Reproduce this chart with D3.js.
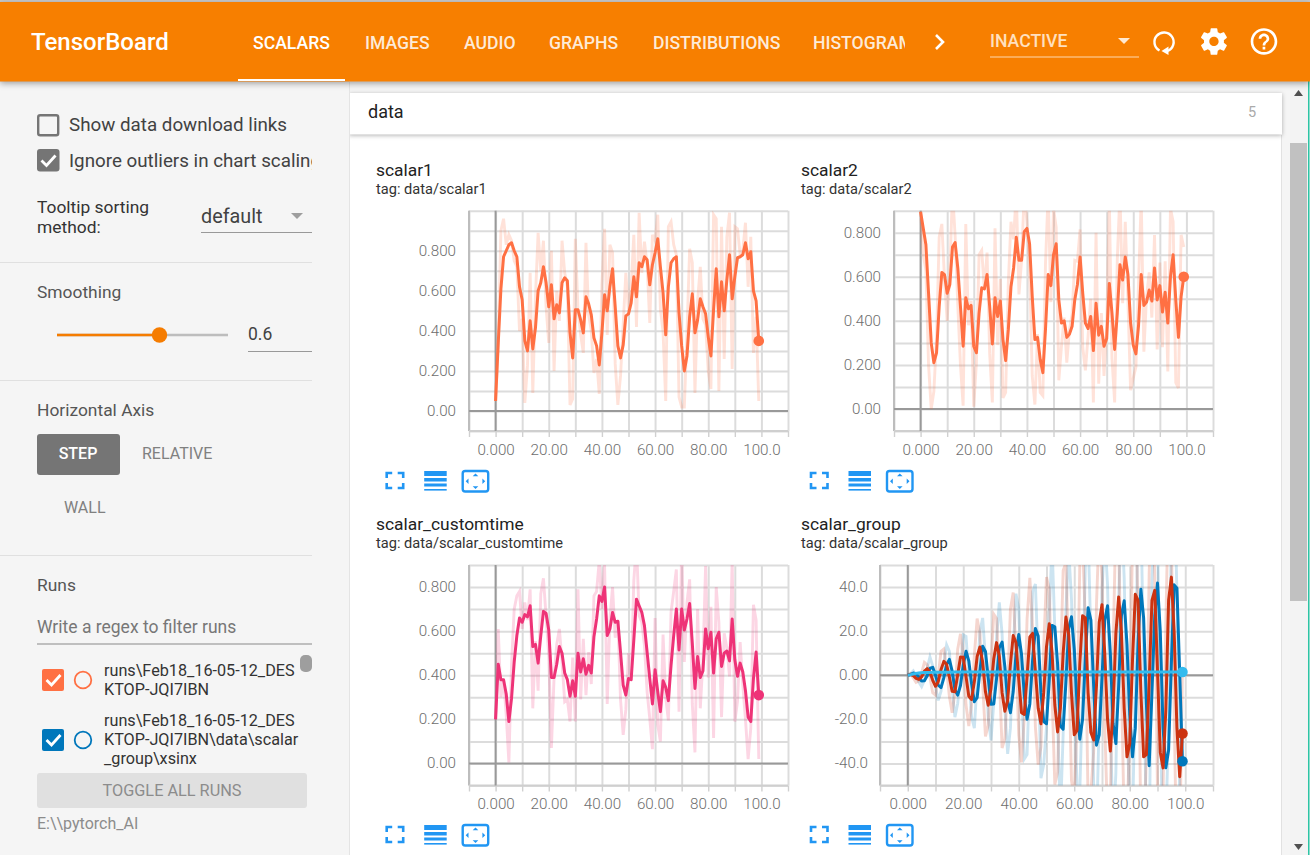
<!DOCTYPE html>
<html>
<head>
<meta charset="utf-8">
<title>TensorBoard</title>
<script src="https://cdn.jsdelivr.net/npm/d3@7"></script>
<style>
    html, body { margin: 0; padding: 0; background: #fff; overflow: hidden; }
    svg { display: block; font-family: Roboto, sans-serif; }
    .axis text { font-family: Roboto, sans-serif; font-weight: 300; font-size: 15.2px; fill: #6e6e6e; }
    .axis path { display: none; }
</style>
</head>
<body>
<div id="chart"></div>
<script>
// Values, one per step (0..99)
var scalar1Smooth = [.05,.34,.61,.77,.80,.83,.84,.80,.77,.62,.555,.35,.30,.45,.31,.415,.60,.64,.72,.64,.52,.63,.46,.53,.49,.64,.665,.65,.39,.265,.505,.505,.455,.39,.57,.535,.48,.365,.325,.23,.39,.58,.50,.62,.71,.52,.325,.265,.33,.475,.485,.54,.67,.57,.74,.72,.77,.755,.63,.73,.79,.86,.72,.59,.38,.62,.74,.76,.77,.49,.325,.20,.275,.47,.585,.39,.455,.56,.52,.485,.37,.275,.505,.71,.47,.645,.50,.655,.78,.56,.67,.765,.77,.78,.84,.76,.795,.60,.55,.35];
var scalar1Raw = [.05,.35,.90,.96,.83,.88,.85,.75,.72,.40,.46,.04,.225,.69,.09,.57,.89,.70,.85,.52,.34,.80,.20,.60,.45,.85,.69,.62,.03,.06,.86,.505,.38,.29,.84,.48,.40,.19,.26,.085,.63,.91,.38,.83,.79,.235,.03,.175,.43,.69,.50,.62,.88,.42,.99,.69,.845,.73,.44,.88,.85,.98,.51,.395,.05,.92,.945,.83,.78,.07,.02,.02,.39,.81,.74,.09,.55,.72,.46,.43,.20,.11,.98,.96,.10,.92,.26,.87,.99,.21,.92,.91,.78,.80,.94,.62,.87,.29,.47,.05];

var scalar2Smooth = [.895,.82,.745,.525,.30,.21,.255,.465,.62,.61,.525,.565,.735,.755,.64,.465,.285,.505,.455,.47,.285,.255,.435,.55,.545,.61,.465,.295,.505,.42,.49,.315,.22,.36,.555,.64,.78,.675,.675,.805,.82,.75,.51,.315,.325,.225,.165,.365,.61,.56,.70,.75,.495,.39,.40,.325,.34,.375,.495,.565,.69,.525,.39,.365,.42,.265,.48,.335,.375,.285,.32,.57,.435,.27,.435,.655,.585,.69,.61,.39,.29,.25,.38,.61,.47,.485,.54,.49,.64,.495,.56,.44,.53,.39,.60,.70,.495,.325,.51,.60];
var scalar2Raw = [.895,.70,.63,.20,0,.08,.32,.78,.84,.59,.40,.625,.99,.785,.47,.20,.015,.84,.38,.49,.01,.21,.70,.72,.54,.71,.25,.03,.82,.29,.59,.05,.075,.57,.85,.77,.99,.52,.675,.99,.85,.645,.15,.02,.34,.075,.06,.665,.98,.485,.91,.825,.13,.285,.415,.21,.36,.43,.675,.67,.815,.28,.175,.33,.50,.03,.80,.115,.435,.15,.37,.95,.23,.03,.68,.985,.48,.85,.49,.085,.14,.19,.575,.955,.26,.51,.62,.415,.79,.27,.665,.28,.67,.17,.91,.85,.12,.095,.79,.735];

var customtimeSmooth = [.20,.45,.38,.38,.315,.19,.295,.46,.58,.66,.64,.675,.665,.715,.53,.54,.455,.58,.69,.68,.605,.39,.39,.45,.53,.50,.41,.38,.305,.375,.305,.50,.415,.475,.405,.445,.41,.575,.655,.76,.735,.80,.58,.61,.685,.64,.645,.505,.355,.31,.385,.38,.56,.745,.715,.685,.625,.505,.385,.27,.425,.325,.235,.375,.345,.285,.445,.58,.70,.515,.70,.605,.655,.725,.545,.34,.485,.39,.42,.61,.52,.595,.41,.565,.595,.44,.50,.51,.465,.655,.47,.395,.455,.415,.33,.21,.19,.385,.505,.31];
var customtimeRaw = [.20,.61,.30,.38,.22,.005,.45,.70,.76,.78,.61,.73,.65,.79,.25,.555,.33,.77,.84,.665,.49,.07,.39,.54,.61,.46,.28,.29,.19,.48,.19,.79,.29,.565,.31,.505,.36,.76,.78,.92,.70,.90,.27,.655,.80,.57,.65,.29,.13,.245,.50,.375,.83,1,.67,.64,.535,.325,.205,.065,.66,.175,.10,.585,.30,.195,.685,.78,.88,.235,.98,.46,.73,.835,.27,.05,.70,.25,.465,.895,.39,.71,.115,.80,.64,.21,.59,.525,.395,.92,.19,.28,.55,.355,.20,.02,.16,.72,.65,.02];

var xsinxSmooth = [0,.3,1,.6,-.9,-2.6,-2.5,-.2,3.2,3.6,.1,-4.5,-5.6,-1.2,4.8,7.2,1.9,-6.5,-9,-4.7,4.5,10.9,6.5,-3.8,-12,-10.2,1.8,13.2,10.8,-1.2,-13.2,-13,-1.5,12.5,15,3.8,-11.5,-17,-7.5,9.5,18.5,9.5,-9,-20,-13,7,21.2,17.8,-8,-21,-22,-2,22.6,22,5,-23,-24.5,-3,21,26.5,12,-13,-29,-20,8,30.6,25,-5,-31.7,-27,-1,25,31.5,10,-22,-31,-5,27,33.8,14,-18,-37,-24,15,39,26,-13,-41,-8,27,41.8,20,-24,-42,-34,5.5,41,39.5,1,-39];
var xsinxRaw = [0,.75,2,0,-3.1,-5.2,-2.4,3.3,8.3,4.2,-5.2,-11.4,-7.2,5.4,13.8,10.8,-6,-19,-12.8,1.8,18.3,17.6,0,-19,-24,-3,19.8,26,7.5,-19,-29.5,-12.5,17,33,18.7,-15,-35.7,-24,11,37,30,-6.5,-38,-36,1,38,41.4,6,-46.7,-40.5,-23.5,28,59.5,21,-20.5,-65,-26.7,29,57,34.7,-9.7,-50.5,-53,-6.5,50,64.5,16.6,-50,-71.7,-20,38,64,41,-22,-70,-44.5,34,75,44,-16,-66,-65.5,-4.5,73.5,75,6.5,-71.5,-83,41.5,79.5,64,-12.7,-90,-69,-22,65,94,37,-56.7,-99];

var xcosxSmooth = [0,.5,-.2,-1.4,-1.9,-.7,1.9,3,1.4,-2.3,-5,-2.9,2.6,6.3,5,-.8,-7.3,-7.5,.2,8.3,8.2,-.5,-9.5,-11,-3,8.5,12.8,6,-7.5,-13.6,-6,7.5,14.8,8.7,-8,-16.3,-11.6,5,18,14.8,-2,-17,-17.8,-.5,17.4,19,2,-15,-22,-8,13,23.4,10.5,-13.5,-25.7,-15,10,26.4,18.5,-8,-27,-25,5,27,26,-8,-26,-29.4,-5,24,32,10,-20,-34.4,-16,19,35.5,20,-15,-37,-31,7,36.7,34,-7,-37,-36,-3,34,38.5,2,-35,-42,-16,34,44.5,20,-24,-46,-26.4];
var xcosxRaw = [0,.5,-1.2,-3.2,-2.6,1.1,5.8,4.7,-1,-7.9,-9,.3,10.9,11.9,3,-9.5,-17,-7.8,11.8,18.8,8,-13.5,-23,-13.2,9,25.7,19,-4,-27.7,-22.7,5.4,27.7,25.8,-.5,-33,-28.7,-4.5,30,37.5,10,-27,-39.5,-19,25.5,44.2,21.4,-23.5,-40.5,-32.5,13,44.5,39,-9,-49.5,-44,1,47.5,51,6.6,-47.7,-55.5,-22,50,60,24.5,-59,-53,-34.5,31.6,67.5,44,-23,-65,-56,11.6,71.5,60,-3,-67.5,-70,-22,64,81,30,-68.5,-82,-34.5,46.5,89.5,45,-53,-90,-52.5,23,85,60,-17,-90,-79,3];

var arctanxSmooth = [0,.3,.6,.85,1,1.1,1.2,1.25,1.3,1.32,1.35,1.37,1.38,1.39,1.4,1.4,1.41,1.42,1.42,1.43,1.43,1.43,1.44,1.44,1.44,1.45,1.45,1.45,1.45,1.46,1.46,1.46,1.46,1.46,1.46,1.47,1.47,1.47,1.47,1.47,1.47,1.47,1.47,1.48,1.48,1.48,1.48,1.48,1.48,1.48,1.48,1.48,1.48,1.48,1.49,1.49,1.49,1.49,1.49,1.49,1.49,1.49,1.49,1.49,1.49,1.49,1.49,1.5,1.5,1.5,1.5,1.5,1.5,1.5,1.5,1.5,1.5,1.5,1.5,1.5,1.5,1.5,1.5,1.5,1.5,1.5,1.5,1.5,1.5,1.5,1.5,1.5,1.5,1.5,1.5,1.5,1.5,1.5,1.5,1.5];

var xTickLabels = ["0.000", "20.00", "40.00", "60.00", "80.00", "100.0"];
var xLabelSteps = [0, 20, 40, 60, 80, 100];
var xGridSteps = [-10, 0, 10, 20, 30, 40, 50, 60, 70, 80, 90, 100, 110];

var tabLabels = ["SCALARS", "IMAGES", "AUDIO", "GRAPHS", "DISTRIBUTIONS", "HISTOGRAMS"];
var tabX = [253, 365, 464, 549, 653, 813];

var chartTitles = ["scalar1", "scalar2", "scalar_customtime", "scalar_group"];
var chartTags = ["tag: data/scalar1", "tag: data/scalar2", "tag: data/scalar_customtime", "tag: data/scalar_group"];

var ORANGE = "#ff7043", BLUE = "#0077bb", MAGENTA = "#ee3377", RED = "#cc3311", SKY = "#33bbee";

var panels = [
    {left: 469, right: 788, top: 210.7, bottom: 431, labelRight: 456, yDomain: [-0.1, 1.0], yStep: 0.1, yLabels: [0, .2, .4, .6, .8], fmt: yFmt01,
     series: [{raw: scalar1Raw, smooth: scalar1Smooth, color: ORANGE}]},
    {left: 894, right: 1213, top: 210.7, bottom: 431, labelRight: 881, yDomain: [-0.1, 0.9], yStep: 0.1, yLabels: [0, .2, .4, .6, .8], fmt: yFmt01,
     series: [{raw: scalar2Raw, smooth: scalar2Smooth, color: ORANGE}]},
    {left: 469, right: 788, top: 565, bottom: 785.5, labelRight: 456, yDomain: [-0.1, 0.9], yStep: 0.1, yLabels: [0, .2, .4, .6, .8], fmt: yFmt01,
     series: [{raw: customtimeRaw, smooth: customtimeSmooth, color: MAGENTA}]},
    {left: 880, right: 1213, top: 565, bottom: 785.5, labelRight: 868, yDomain: [-50, 50], yStep: 10, yLabels: [-40, -20, 0, 20, 40], fmt: yFmtGroup,
     series: [{raw: xsinxRaw, smooth: xsinxSmooth, color: BLUE},
              {raw: xcosxRaw, smooth: xcosxSmooth, color: RED},
              {raw: arctanxSmooth, smooth: arctanxSmooth, color: SKY}]}
];

function yFmt01(v) {
    return v === 0 ? "0.00" : v.toFixed(3);
}

function yFmtGroup(v) {
    return v === 0 ? "0.00" : v.toFixed(1);
}

var svg = d3.select("#chart").append("svg").attr("width", 1310).attr("height", 855);
var defs = svg.append("defs");

function addClip(id, x, y, w, h) {
    defs.append("clipPath").attr("id", id)
        .append("rect").attr("x", x).attr("y", y).attr("width", w).attr("height", h);
}

function label(parent, x, y, text, size, color, weight, anchor) {
    return parent.append("text")
        .attr("x", x).attr("y", y)
        .attr("font-size", size)
        .attr("fill", color || "#333")
        .attr("font-weight", weight || 400)
        .attr("text-anchor", anchor || "start")
        .text(text);
}

function box(parent, x, y, w, h, fill, r) {
    return parent.append("rect")
        .attr("x", x).attr("y", y).attr("width", w).attr("height", h)
        .attr("rx", r || 0).attr("fill", fill);
}

function hline(parent, x1, x2, y, color, width) {
    parent.append("line")
        .attr("x1", x1).attr("x2", x2).attr("y1", y).attr("y2", y)
        .attr("stroke", color).attr("stroke-width", width || 1);
}

function checkMark(parent, x, y) {
    parent.append("path")
        .attr("d", "M" + (x + 4.5) + " " + (y + 11.5) + "l5 5l9 -10")
        .attr("fill", "none").attr("stroke", "#fff").attr("stroke-width", 2.8);
}

function drawSidebar() {
    var g = svg.append("g");
    box(g, 0, 0, 349, 855, "#f5f5f5");
    box(g, 349, 82, 1, 773, "#e4e4e4");
    addClip("sideClip", 0, 82, 312, 773);

    g.append("rect").attr("x", 38.2).attr("y", 115.2).attr("width", 20).attr("height", 20).attr("rx", 2)
        .attr("fill", "none").attr("stroke", "#757575").attr("stroke-width", 2.4);
    label(g, 69, 131, "Show data download links", 18.8, "#424242");

    box(g, 37, 149, 22.5, 22.5, "#757575", 3);
    checkMark(g, 37, 149);
    label(g, 69, 167, "Ignore outliers in chart scaling", 18.8, "#424242").attr("clip-path", "url(#sideClip)");

    label(g, 37, 213, "Tooltip sorting", 17.4, "#333");
    label(g, 37, 233, "method:", 17.4, "#333");
    label(g, 201, 223, "default", 19.8, "#424242");
    g.append("path").attr("d", "M291 213h12l-6 6z").attr("fill", "#9e9e9e");
    hline(g, 201, 312, 232.5, "#999", 1);

    hline(g, 0, 312, 262.5, "#e0e0e0", 1);
    label(g, 37, 298, "Smoothing", 17.4, "#555");
    hline(g, 57, 228, 335, "#bdbdbd", 2.6);
    hline(g, 57, 159, 335, "#f57c00", 2.6);
    g.append("circle").attr("cx", 159.5).attr("cy", 335).attr("r", 7.7).attr("fill", "#f57c00");
    label(g, 248, 340, "0.6", 17.5, "#424242");
    hline(g, 248, 312, 351.5, "#999", 1);

    hline(g, 0, 312, 380.5, "#e0e0e0", 1);
    label(g, 37, 416, "Horizontal Axis", 17.4, "#555");
    box(g, 37, 434, 83, 41, "#757575", 3);
    label(g, 78, 459, "STEP", 16, "#fff", 500, "middle");
    label(g, 142, 459, "RELATIVE", 16, "#808080", 400);
    label(g, 64, 513, "WALL", 16, "#808080", 400);

    hline(g, 0, 312, 555.5, "#e0e0e0", 1);
    label(g, 37, 591, "Runs", 17.4, "#555");
    label(g, 37, 633, "Write a regex to filter runs", 17.5, "#777");
    hline(g, 37, 312, 644, "#8a8a8a", 1.2);

    box(g, 42, 669, 22, 22, ORANGE, 2);
    checkMark(g, 42, 668.5);
    g.append("circle").attr("cx", 83).attr("cy", 680).attr("r", 8.3)
        .attr("fill", "none").attr("stroke", ORANGE).attr("stroke-width", 1.8);
    label(g, 104, 676, "runs\\Feb18_16-05-12_DES", 16.2, "#333");
    label(g, 104, 695, "KTOP-JQI7IBN", 16.2, "#333");
    box(g, 300, 655, 12, 17, "#9e9e9e", 5);

    box(g, 42, 729, 22, 22, BLUE, 2);
    checkMark(g, 42, 728.5);
    g.append("circle").attr("cx", 83).attr("cy", 740).attr("r", 8.3)
        .attr("fill", "none").attr("stroke", BLUE).attr("stroke-width", 1.8);
    label(g, 104, 726, "runs\\Feb18_16-05-12_DES", 16.2, "#333");
    label(g, 104, 745, "KTOP-JQI7IBN\\data\\scalar", 16.2, "#333");
    label(g, 104, 764, "_group\\xsinx", 16.2, "#333");

    box(g, 37, 773, 270, 35, "#e0e0e0", 3);
    label(g, 172, 796, "TOGGLE ALL RUNS", 16.3, "#8c8c8c", 400, "middle");
    label(g, 37, 829, "E:\\\\pytorch_AI", 16, "#8c8c8c");
}

function drawHeader() {
    var g = svg.append("g");
    box(g, 0, 0, 1310, 2, "#c9c9c9");
    box(g, 0, 2, 1310, 79.5, "#f77f00")
        .style("filter", "drop-shadow(0 2px 3px rgba(0,0,0,0.35))");
    label(g, 31, 50, "TensorBoard", 24, "#fff", 500);

    addClip("tabClip", 238, 2, 667, 78);
    var tabs = g.append("g").attr("clip-path", "url(#tabClip)");
    tabLabels.forEach(function (name, i) {
        label(tabs, tabX[i], 49, name, 17.6, i === 0 ? "#fff" : "rgba(255,255,255,0.85)", 500);
    });
    box(g, 238, 79, 107, 2, "#fff");

    g.append("path").attr("d", "M936 35l7 7l-7 7")
        .attr("fill", "none").attr("stroke", "#fff").attr("stroke-width", 2.6);

    label(g, 990, 47, "INACTIVE", 17.6, "#ffe0bf", 500);
    g.append("path").attr("d", "M1118 38h12l-6 6z").attr("fill", "#ffe9d2");
    hline(g, 990, 1139, 57, "#ffd9b0", 1.2);

    // refresh, settings, help
    g.append("path").attr("d", "M1159.5 50.5A9.6 9.6 0 1 1 1167.5 51")
        .attr("fill", "none").attr("stroke", "#fff").attr("stroke-width", 2.4);
    g.append("path").attr("d", "M1168.5 46.5v8.5l-7 -4z").attr("fill", "#fff");
    g.append("path").attr("transform", "translate(1198,25.5) scale(1.33)").attr("fill", "#fff")
        .attr("d", "M19.43 12.98c.04-.32.07-.64.07-.98s-.03-.66-.07-.98l2.11-1.65c.19-.15.24-.42.12-.64l-2-3.46c-.12-.22-.39-.3-.61-.22l-2.49 1c-.52-.4-1.08-.73-1.69-.98l-.38-2.65C14.46 2.18 14.25 2 14 2h-4c-.25 0-.46.18-.49.42l-.38 2.65c-.61.25-1.17.59-1.69.98l-2.49-1c-.23-.09-.49 0-.61.22l-2 3.46c-.13.22-.07.49.12.64l2.11 1.65c-.04.32-.07.65-.07.98s.03.66.07.98l-2.11 1.65c-.19.15-.24.42-.12.64l2 3.46c.12.22.39.3.61.22l2.49-1c.52.4 1.08.73 1.69.98l.38 2.65c.03.24.24.42.49.42h4c.25 0 .46-.18.49-.42l.38-2.65c.61-.25 1.17-.59 1.69-.98l2.49 1c.23.09.49 0 .61-.22l2-3.46c.12-.22.07-.49-.12-.64l-2.11-1.65zM12 15.5c-1.93 0-3.5-1.57-3.5-3.5s1.57-3.5 3.5-3.5 3.5 1.57 3.5 3.5-1.57 3.5-3.5 3.5z");
    g.append("path").attr("transform", "translate(1248,25.5) scale(1.33)").attr("fill", "#fff")
        .attr("d", "M11 18h2v-2h-2v2zm1-16C6.48 2 2 6.48 2 12s4.48 10 10 10 10-4.48 10-10S17.52 2 12 2zm0 18c-4.41 0-8-3.59-8-8s3.59-8 8-8 8 3.59 8 8-3.59 8-8 8zm0-14c-2.21 0-4 1.79-4 4h2c0-1.1.9-2 2-2s2 .9 2 2c0 2-3 1.75-3 5h2c0-2.25 3-2.5 3-5 0-2.21-1.79-4-4-4z");
}

function drawContentFrame() {
    var g = svg.append("g");
    box(g, 350, 82, 960, 773, "#f5f5f5");
    box(g, 350, 135, 931, 720, "#fff");
    box(g, 1281, 135, 1, 720, "#e2e2e2");

    // card header with its shadow
    box(g, 349, 93, 933, 41.5, "#fff")
        .style("filter", "drop-shadow(0 1px 2px rgba(0,0,0,0.3))");
    label(g, 368, 118, "data", 18, "#222");
    label(g, 1248, 117, "5", 14.5, "#aaa");

    // scrollbar
    box(g, 1290, 82, 18, 773, "#f3f3f3");
    box(g, 1290, 143, 17, 458, "#c1c1c1");
    g.append("path").attr("d", "M1294 96l4.5 -6l4.5 6z").attr("fill", "#505050");
    g.append("path").attr("d", "M1294 844l4.5 6l4.5 -6z").attr("fill", "#505050");
    box(g, 1308, 0, 1.5, 855, "#2cc5a5");
}

function drawIcons(g, x, y) {
    var blue = "#2196f3";
    // fullscreen corners
    g.append("path")
        .attr("d", "M" + x + " " + (y + 6) + "v-5h5.5M" + (x + 11) + " " + (y + 1) + "h5.5v5M" + (x + 16.5) + " " + (y + 11) + "v5h-5.5M" + (x + 5.5) + " " + (y + 16) + "h-5.5v-5")
        .attr("fill", "none").attr("stroke", blue).attr("stroke-width", 2.6);
    // line list
    box(g, x + 37.5, y - 1, 22.5, 5, blue);
    box(g, x + 37.5, y + 6, 22.5, 3.5, blue);
    box(g, x + 37.5, y + 11.5, 22.5, 3, blue);
    box(g, x + 37.5, y + 17, 22.5, 1.6, blue);
    // fit to data box
    g.append("rect").attr("x", x + 76).attr("y", y - 1).attr("width", 25.5).attr("height", 20.5).attr("rx", 2.5)
        .attr("fill", "none").attr("stroke", blue).attr("stroke-width", 2.4);
    g.append("path")
        .attr("d", "M" + (x + 88.8) + " " + (y + 1.5) + "l2.8 2.8h-5.6zM" + (x + 88.8) + " " + (y + 17) + "l2.8 -2.8h-5.6zM" + (x + 79) + " " + (y + 9.3) + "l2.8 -2.8v5.6zM" + (x + 98.5) + " " + (y + 9.3) + "l-2.8 -2.8v5.6z")
        .attr("fill", blue);
}

function drawPanel(p, i) {
    var g = svg.append("g");
    var x = d3.scaleLinear().domain([-10, 110]).range([p.left, p.right]);
    var y = d3.scaleLinear().domain(p.yDomain).range([p.bottom, p.top]);

    var col = i % 2 === 0 ? 376 : 801;
    var rowY = i < 2 ? 176 : 530;
    label(g, col, rowY, chartTitles[i], 17.4, "#222");
    label(g, col, rowY + 18, chartTags[i], 14.6, "#333");

    // y grid lines, one per y step
    var yGrid = d3.range(Math.round((p.yDomain[1] - p.yDomain[0]) / p.yStep) + 1).map(function (k) {
        return p.yDomain[0] + k * p.yStep;
    });
    g.append("g").attr("class", "axis")
        .attr("transform", "translate(" + p.left + ",0)")
        .call(d3.axisLeft(y).tickValues(yGrid).tickSize(p.left - p.right).tickFormat(""))
        .call(function (a) { a.selectAll("line").attr("stroke", "#dcdcdc").attr("stroke-width", 2); });

    g.append("g").attr("class", "axis")
        .attr("transform", "translate(0," + p.bottom + ")")
        .call(d3.axisBottom(x).tickValues(xGridSteps).tickSize(p.top - p.bottom).tickFormat(""))
        .call(function (a) { a.selectAll("line").attr("stroke", "#dcdcdc").attr("stroke-width", 2); });

    // short ticks under the plot
    g.append("g").attr("class", "axis")
        .attr("transform", "translate(0," + p.bottom + ")")
        .call(d3.axisBottom(x).tickValues(xGridSteps).tickSize(6).tickFormat(""))
        .call(function (a) { a.selectAll("line").attr("stroke", "#d0d0d0").attr("stroke-width", 1.4); });

    // plot border, left and bottom are darker
    g.append("line").attr("x1", p.left).attr("x2", p.left).attr("y1", p.top).attr("y2", p.bottom)
        .attr("stroke", "#bdbdbd").attr("stroke-width", 2);
    hline(g, p.left, p.right, p.bottom, "#cfcfcf", 2);

    // zero lines
    g.append("line").attr("x1", x(0)).attr("x2", x(0)).attr("y1", p.top).attr("y2", p.bottom)
        .attr("stroke", "#999").attr("stroke-width", 2);
    hline(g, p.left, p.right, y(0), "#999", 2);

    // tick labels
    g.append("g").attr("class", "axis")
        .attr("transform", "translate(0," + (p.bottom + 13) + ")")
        .call(d3.axisBottom(x).tickValues(xLabelSteps).tickSize(0).tickPadding(0)
            .tickFormat(function (d, k) { return xTickLabels[k]; }))
        .call(function (a) { a.selectAll("line").remove(); });

    g.append("g").attr("class", "axis")
        .attr("transform", "translate(" + p.labelRight + ",-0.5)")
        .call(d3.axisLeft(y).tickValues(p.yLabels).tickSize(0).tickPadding(0).tickFormat(p.fmt))
        .call(function (a) { a.selectAll("line").remove(); });

    // lines, clipped to the plot
    var clipId = "plot" + i;
    addClip(clipId, p.left, p.top, p.right - p.left, p.bottom - p.top);
    var plot = g.append("g").attr("clip-path", "url(#" + clipId + ")");
    var line = d3.line()
        .x(function (d, k) { return x(k); })
        .y(function (d) { return y(d); });

    p.series.forEach(function (s) {
        plot.append("path").attr("d", line(s.raw))
            .attr("fill", "none").attr("stroke", s.color).attr("stroke-width", 2.9).attr("stroke-opacity", 0.2);
    });
    p.series.forEach(function (s) {
        plot.append("path").attr("d", line(s.smooth))
            .attr("fill", "none").attr("stroke", s.color).attr("stroke-width", 3)
            .attr("stroke-linejoin", "round");
    });
    p.series.forEach(function (s) {
        g.append("circle")
            .attr("cx", x(99)).attr("cy", y(s.smooth[99])).attr("r", 5.3)
            .attr("fill", s.color);
    });

    drawIcons(g, i % 2 === 0 ? 386.7 : 811, i < 2 ? 472 : 826);
}

drawContentFrame();
drawSidebar();
panels.forEach(drawPanel);
drawHeader();
</script>
</body>
</html>
